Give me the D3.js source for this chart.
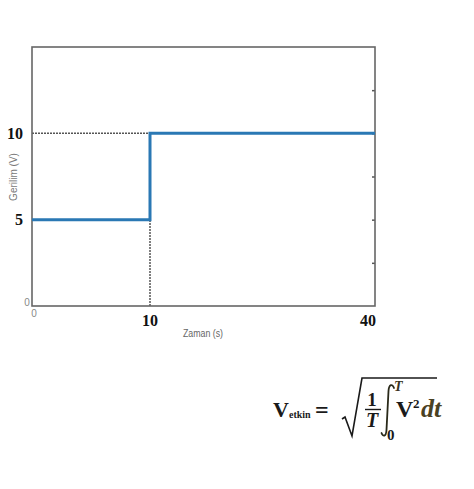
<!DOCTYPE html>
<html>
<head>
<meta charset="utf-8">
<script src="https://cdn.jsdelivr.net/npm/d3@7"></script>
<style>
  body { margin: 0; background: #fff; }
  svg { display: block; }
</style>
</head>
<body>
<div id="chart"></div>
<script>
// step signal: voltage vs time
var times = [0, 10, 40];
var volts = [5, 10, 10];

// bold labels on the axes (the schematic x axis is not to scale)
var xTickLabels = [10, 40];
var yTickLabels = [5, 10];
var rightTicks = [2.5, 5, 7.5, 10, 12.5];

var width = 474, height = 489;

var svg = d3.select("#chart")
  .append("svg")
  .attr("width", width)
  .attr("height", height);

// piecewise scale: 0..10 gets more room than 10..40 in the drawing
var x = d3.scaleLinear().domain([0, 10, 40]).range([32, 150, 375]);
var y = d3.scaleLinear().domain([0, 15]).range([306, 47]);

// build step points from the data: hold each level until the next time
var stepPts = [];
for (var i = 0; i < times.length - 1; i++) {
  stepPts.push([times[i], volts[i]]);
  stepPts.push([times[i + 1], volts[i]]);
}

// dotted guides
svg.append("line")
  .attr("x1", x(0)).attr("x2", x(times[1]))
  .attr("y1", y(volts[1])).attr("y2", y(volts[1]))
  .attr("stroke", "#555").attr("stroke-width", 1.5)
  .attr("stroke-dasharray", "2,1");

svg.append("line")
  .attr("x1", x(times[1])).attr("x2", x(times[1]))
  .attr("y1", y(0)).attr("y2", y(volts[0]))
  .attr("stroke", "#555").attr("stroke-width", 1.5)
  .attr("stroke-dasharray", "2,1");

// right axis with inward ticks
svg.append("g")
  .attr("transform", "translate(" + x(40) + ",0)")
  .call(d3.axisLeft(y).tickValues(rightTicks).tickSize(3).tickFormat(""))
  .call(function(g) {
    g.select(".domain").remove();
    g.selectAll("line").attr("stroke", "#555").attr("stroke-width", 1.5);
  });

// frame
svg.append("rect")
  .attr("x", x(0)).attr("y", y(15))
  .attr("width", x(40) - x(0)).attr("height", y(0) - y(15))
  .attr("fill", "none")
  .attr("stroke", "#666")
  .attr("stroke-width", 1.6);

// the signal
svg.append("path")
  .datum(stepPts)
  .attr("fill", "none")
  .attr("stroke", "#2a78b4")
  .attr("stroke-width", 3)
  .attr("d", d3.line().x(function(d) { return x(d[0]); }).y(function(d) { return y(d[1]); }));

// y labels
svg.selectAll(".ylab")
  .data(yTickLabels)
  .enter()
  .append("text")
  .attr("x", 23)
  .attr("y", function(d) { return y(d); })
  .attr("dy", "0.35em")
  .attr("text-anchor", "end")
  .attr("font-family", "Liberation Serif, serif")
  .attr("font-weight", "bold")
  .attr("font-size", 16)
  .attr("fill", "#111")
  .text(function(d) { return d; });

// x labels
svg.selectAll(".xlab")
  .data(xTickLabels)
  .enter()
  .append("text")
  .attr("x", function(d) { return d == 40 ? x(d) - 7 : x(d); })
  .attr("y", 320)
  .attr("dy", "0.35em")
  .attr("text-anchor", "middle")
  .attr("font-family", "Liberation Serif, serif")
  .attr("font-weight", "bold")
  .attr("font-size", 16)
  .attr("fill", "#111")
  .text(function(d) { return d; });

// small zeros at the origin
svg.append("text")
  .attr("x", 27).attr("y", 306)
  .attr("text-anchor", "middle")
  .attr("font-family", "Liberation Sans, sans-serif")
  .attr("font-size", 10).attr("fill", "#888")
  .text("0");
svg.append("text")
  .attr("x", 34).attr("y", 317)
  .attr("text-anchor", "middle")
  .attr("font-family", "Liberation Sans, sans-serif")
  .attr("font-size", 10).attr("fill", "#888")
  .text("0");

// axis titles
svg.append("text")
  .attr("transform", "translate(17,177) rotate(-90)")
  .attr("text-anchor", "middle")
  .attr("font-family", "Liberation Sans, sans-serif")
  .attr("font-size", 10).attr("fill", "#777")
  .text("Gerilim (V)");

svg.append("text")
  .attr("transform", "translate(203,337) scale(0.8,1)")
  .attr("text-anchor", "middle")
  .attr("font-family", "Liberation Sans, sans-serif")
  .attr("font-size", 11).attr("fill", "#666")
  .text("Zaman (s)");

// formula: V_etkin = sqrt( 1/T ∫_0^T V^2 dt )
var f = svg.append("g")
  .attr("font-family", "Liberation Serif, serif")
  .attr("font-weight", "bold")
  .attr("fill", "#1a1a1a");

f.append("text").attr("x", 273).attr("y", 417).attr("font-size", 22).text("V");
f.append("text").attr("x", 289).attr("y", 418).attr("font-size", 10).text("etkin");
f.append("text").attr("x", 315).attr("y", 418).attr("font-size", 24).text("=");

// radical sign
f.append("path")
  .attr("d", "M342,419 L345,417 L352,436 L362,378 L437,378")
  .attr("fill", "none")
  .attr("stroke", "#1a1a1a")
  .attr("stroke-width", 1.6)
  .attr("stroke-linejoin", "miter");

f.append("text").attr("x", 372).attr("y", 406).attr("text-anchor", "middle").attr("font-size", 19).text("1");
f.append("line").attr("x1", 365).attr("x2", 381).attr("y1", 409.5).attr("y2", 409.5)
  .attr("stroke", "#1a1a1a").attr("stroke-width", 1.4);
f.append("text").attr("x", 372).attr("y", 427).attr("text-anchor", "middle")
  .attr("font-size", 20).attr("font-style", "italic").text("T");

// integral sign
f.append("path")
  .attr("d", "M394,388 C392.5,383.5 389,384 388.5,391 L386.5,430 C386,437 383,437 381.5,433")
  .attr("fill", "none")
  .attr("stroke", "#2a2a1a")
  .attr("stroke-width", 1.8)
  .attr("stroke-linecap", "round");
f.append("text").attr("x", 394).attr("y", 391).attr("font-size", 14)
  .attr("font-style", "italic").attr("fill", "#3a3420").text("T");
f.append("text").attr("x", 387).attr("y", 440).attr("font-size", 15).text("0");

f.append("text").attr("x", 396).attr("y", 417).attr("font-size", 24).text("V");
f.append("text").attr("x", 413).attr("y", 408).attr("font-size", 13).text("2");
f.append("text").attr("x", 421).attr("y", 417).attr("font-size", 26)
  .attr("font-style", "italic").attr("fill", "#4a4122").text("dt");
</script>
</body>
</html>
